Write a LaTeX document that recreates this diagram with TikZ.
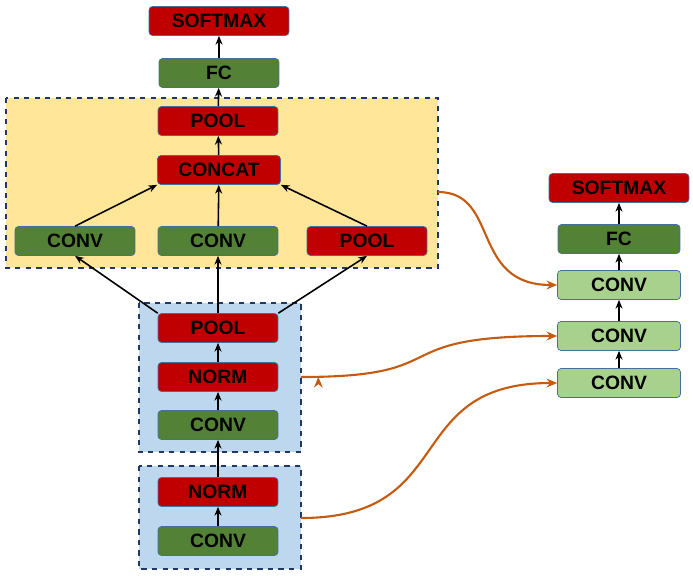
\documentclass[tikz,border=0pt]{standalone}
\usepackage{fontspec}
\setmainfont{Liberation Sans}
\usetikzlibrary{arrows.meta}
\definecolor{cred}{HTML}{C00000}
\definecolor{cgreen}{HTML}{538135}
\definecolor{clight}{HTML}{A9D18E}
\definecolor{cyel}{HTML}{FFE699}
\definecolor{cblue}{HTML}{BDD7EE}
\definecolor{cnavy}{HTML}{1F3864}
\definecolor{corange}{HTML}{C55A11}
\definecolor{cedge}{HTML}{41719C}
\begin{document}
\begin{tikzpicture}[x=0.02cm,y=-0.02cm,
  box/.style={draw=cedge,rounded corners=2pt,minimum width=2.4cm,minimum height=0.58cm,
    font=\bfseries\fontsize{11}{12}\selectfont,inner sep=0pt},
  red/.style={box,fill=cred},
  grn/.style={box,fill=cgreen},
  lgt/.style={box,fill=clight},
  region/.style={draw=cnavy,dashed,line width=0.9pt},
  arr/.style={-{Stealth[length=5pt,width=4pt]},line width=0.9pt},
  oarr/.style={-{Stealth[length=6pt,width=5pt]},draw=corange,line width=1.2pt}]
\useasboundingbox (0,0) rectangle (693,575);
% regions
\path[region,fill=cyel] (6,98) rectangle (438,268);
\path[region,fill=cblue] (139,303) rectangle (301,452);
\path[region,fill=cblue] (139,466) rectangle (301,569);
\coordinate (yr) at (438,192);
\coordinate (b2r) at (301,518);
% left network
\node[red,minimum width=2.8cm] (sm) at (219,21) {SOFTMAX};
\node[grn] (fc) at (219,73) {FC};
\node[red] (p2) at (218,121) {POOL};
\node[red,minimum width=2.46cm] (cat) at (219,170) {CONCAT};
\node[grn] (c1) at (75,241) {CONV};
\node[grn] (c2) at (218,241) {CONV};
\node[red] (p1) at (367,241) {POOL};
\node[red] (p0) at (218,328) {POOL};
\node[red] (n1) at (218,377) {NORM};
\node[grn] (c0) at (218,425) {CONV};
\node[red] (n0) at (218,492) {NORM};
\node[grn] (cb) at (218,541) {CONV};
% right network
\node[red,minimum width=2.8cm] (rsm) at (619,188) {SOFTMAX};
\node[grn,minimum width=2.44cm] (rfc) at (619,239) {FC};
\node[lgt,minimum width=2.46cm] (r3) at (619,285) {CONV};
\node[lgt,minimum width=2.46cm] (r2) at (619,336) {CONV};
\node[lgt,minimum width=2.46cm] (r1) at (619,383) {CONV};
% arrows
\draw[arr] (cb) -- (n0);
\draw[arr] (n0) -- (c0);
\draw[arr] (c0) -- (n1);
\draw[arr] (n1) -- (p0);
\draw[arr] (p0) -- (c2);
\draw[arr] (p0.north west) -- (c1.south);
\draw[arr] (p0.north east) -- (p1.south);
\draw[arr] (c1.north) -- (cat.south west);
\draw[arr] (c2) -- (cat);
\draw[arr] (p1.north) -- (cat.south east);
\draw[arr] (cat) -- (p2);
\draw[arr] (p2) -- (fc);
\draw[arr] (fc) -- (sm);
\draw[arr] (r1) -- (r2);
\draw[arr] (r2) -- (r3);
\draw[arr] (r3) -- (rfc);
\draw[arr] (rfc) -- (rsm);
% orange connectors
\draw[oarr] (yr) .. controls (500,192) and (470,285) .. (r3.west);
\draw[oarr] (n1.east) ++(40,0) coordinate (n1e);
\draw[oarr] (301,377) .. controls (460,377) and (380,336) .. (r2.west);
\draw[oarr] (b2r) .. controls (460,518) and (400,383) .. (r1.west);
\end{tikzpicture}
\end{document}
